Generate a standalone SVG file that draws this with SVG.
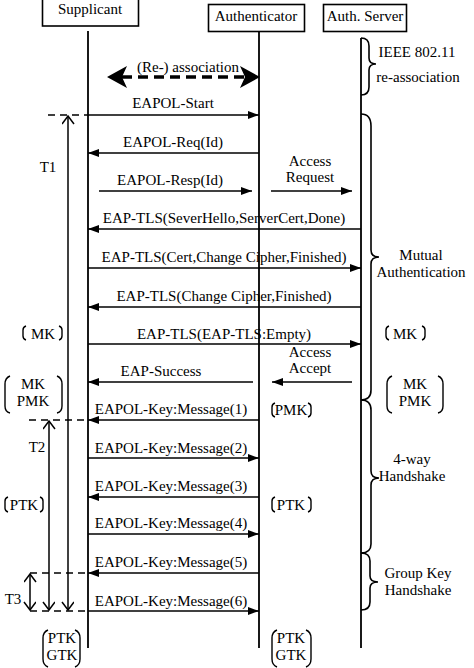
<svg xmlns="http://www.w3.org/2000/svg" width="474" height="668" viewBox="0 0 474 668">
<style>
text{font-family:"Liberation Serif","Times New Roman",serif;font-size:15px;fill:#000;text-anchor:middle}
.box{fill:#fff;stroke:#000;stroke-width:1.6}
.life{stroke:#000;stroke-width:1.8;fill:none}
.msg{stroke:#000;stroke-width:1.5;fill:none;marker-end:url(#ah)}
.dash{stroke:#000;stroke-width:1.5;fill:none;stroke-dasharray:7 5}
.tarr{stroke:#000;stroke-width:1.5;fill:none;marker-start:url(#va);marker-end:url(#va)}
.brace{stroke:#000;stroke-width:1.6;fill:none}
.brk{stroke:#000;stroke-width:1.4;fill:none}
</style>
<defs>
<marker id="ah" markerUnits="userSpaceOnUse" markerWidth="12" markerHeight="10" refX="11" refY="4" orient="auto"><path d="M0,0 L11,4 L0,8 z" fill="#000"/></marker>
<marker id="va" markerUnits="userSpaceOnUse" markerWidth="12" markerHeight="14" refX="9" refY="6" orient="auto-start-reverse"><path d="M1,0 L9,6 L1,12" fill="none" stroke="#000" stroke-width="1.5"/></marker>
</defs>

<g id="supplicant">
<rect class="box" x="42.5" y="-1" width="96" height="27"/>
<text x="90" y="14">Supplicant</text>
</g>
<g id="authenticator">
<rect class="box" x="208.5" y="4.5" width="96" height="27"/>
<text x="256" y="21">Authenticator</text>
</g>
<g id="server">
<rect class="box" x="323.5" y="4.5" width="83" height="27"/>
<text x="365" y="21">Auth. Server</text>
</g>

<g id="lifelines">
<line class="life" x1="88" y1="31" x2="88" y2="648"/>
<line class="life" x1="259" y1="31" x2="259" y2="648"/>
<line class="life" x1="361" y1="38" x2="361" y2="648"/>
</g>

<g id="braces">
<path class="brace" d="M361,38 Q369,38 369,46 L369,58 Q369,64 376,64 Q369,64 369,70 L369,87 Q369,95 361,95"/>
<path class="brace" d="M361,114 Q371,114 371,126 L371,250 Q371,257 379,257 Q371,257 371,264 L371,390 Q371,400 361,400"/>
<path class="brace" d="M361,400 Q371,400 371,410 L371,471 Q371,478 379,478 Q371,478 371,485 L371,544 Q371,553 361,553"/>
<path class="brace" d="M361,553 Q370,553 370,561 L370,576 Q370,582 378,582 Q370,582 370,588 L370,602 Q370,610 361,610"/>
<text x="417" y="57">IEEE 802.11</text>
<text x="418" y="82">re-association</text>
<text x="421" y="260">Mutual</text>
<text x="421" y="277">Authentication</text>
<text x="412" y="464">4-way</text>
<text x="412" y="481">Handshake</text>
<text x="418" y="578">Group Key</text>
<text x="418" y="595">Handshake</text>
</g>

<g id="connectors">
<line x1="122" y1="77" x2="245" y2="77" stroke="#000" stroke-width="3.5" stroke-dasharray="10 6"/>
<path d="M107,77 L127,66 L122,77 L127,88 z" fill="#000"/>
<path d="M260,77 L240,66 L245,77 L240,88 z" fill="#000"/>
<text x="188" y="72">(Re-) association</text>

<line class="dash" x1="48" y1="115" x2="88" y2="115"/>
<line class="msg" x1="88" y1="115" x2="259" y2="115"/>
<text x="173" y="108">EAPOL-Start</text>

<line class="msg" x1="259" y1="153" x2="88" y2="153"/>
<text x="173" y="147">EAPOL-Req(Id)</text>

<line class="msg" x1="99" y1="191" x2="252" y2="191"/>
<text x="170" y="185">EAPOL-Resp(Id)</text>

<line class="msg" x1="271" y1="191" x2="352" y2="191"/>
<text x="310" y="166">Access</text>
<text x="310" y="182">Request</text>

<line class="msg" x1="361" y1="229" x2="88" y2="229"/>
<text x="224" y="223">EAP-TLS(SeverHello,ServerCert,Done)</text>

<line class="msg" x1="88" y1="268" x2="361" y2="268"/>
<text x="224" y="262">EAP-TLS(Cert,Change Cipher,Finished)</text>

<line class="msg" x1="361" y1="307" x2="88" y2="307"/>
<text x="224" y="301">EAP-TLS(Change Cipher,Finished)</text>

<line class="msg" x1="88" y1="344" x2="361" y2="344"/>
<text x="224" y="339">EAP-TLS(EAP-TLS:Empty)</text>

<line class="msg" x1="352" y1="382" x2="272" y2="382"/>
<text x="310" y="357">Access</text>
<text x="310" y="373">Accept</text>

<line class="msg" x1="253" y1="382" x2="88" y2="382"/>
<text x="161" y="376">EAP-Success</text>

<line class="dash" x1="29" y1="420" x2="88" y2="420"/>
<line class="msg" x1="259" y1="420" x2="88" y2="420"/>
<text x="171" y="414">EAPOL-Key:Message(1)</text>

<line class="msg" x1="88" y1="458" x2="259" y2="458"/>
<text x="171" y="453">EAPOL-Key:Message(2)</text>

<line class="msg" x1="259" y1="497" x2="88" y2="497"/>
<text x="171" y="491">EAPOL-Key:Message(3)</text>

<line class="msg" x1="88" y1="534" x2="259" y2="534"/>
<text x="171" y="528">EAPOL-Key:Message(4)</text>

<line class="dash" x1="30" y1="573" x2="88" y2="573"/>
<line class="msg" x1="259" y1="573" x2="88" y2="573"/>
<text x="171" y="567">EAPOL-Key:Message(5)</text>

<line class="dash" x1="30" y1="611" x2="88" y2="611"/>
<line class="msg" x1="88" y1="611" x2="259" y2="611"/>
<text x="171" y="606">EAPOL-Key:Message(6)</text>
</g>

<g id="timers">
<line class="tarr" x1="68" y1="116" x2="68" y2="610"/>
<text x="48" y="172">T1</text>
<line class="tarr" x1="49" y1="421" x2="49" y2="610"/>
<text x="37" y="452">T2</text>
<line class="tarr" x1="30" y1="574" x2="30" y2="610"/>
<text x="13" y="604">T3</text>
</g>

<g id="keys">
<path class="brk" d="M26,326 Q23,327 23,330 L23,336 Q23,339 26,340 M59,326 Q62,327 62,330 L62,336 Q62,339 59,340"/>
<text x="43" y="339">MK</text>
<path class="brk" d="M389,326 Q386,327 386,330 L386,336 Q386,339 389,340 M422,326 Q425,327 425,330 L425,336 Q425,339 422,340"/>
<text x="405" y="339">MK</text>

<path class="brk" d="M10,376 Q5,378 5,384 L5,406 Q5,412 10,413 M57,376 Q62,378 62,384 L62,406 Q62,412 57,413"/>
<text x="33" y="389">MK</text>
<text x="33" y="406">PMK</text>
<path class="brk" d="M392,376 Q387,378 387,384 L387,406 Q387,412 392,413 M438,376 Q443,378 443,384 L443,406 Q443,412 438,413"/>
<text x="415" y="389">MK</text>
<text x="415" y="406">PMK</text>

<path class="brk" d="M275,403 Q272,404 272,407 L272,413 Q272,416 275,417 M308,403 Q311,404 311,407 L311,413 Q311,416 308,417"/>
<text x="291" y="415">PMK</text>

<path class="brk" d="M8,497 Q5,498 5,501 L5,508 Q5,511 8,512 M40,497 Q43,498 43,501 L43,508 Q43,511 40,512"/>
<text x="24" y="510">PTK</text>
<path class="brk" d="M275,497 Q272,498 272,501 L272,508 Q272,511 275,512 M308,497 Q311,498 311,501 L311,508 Q311,511 308,512"/>
<text x="291" y="510">PTK</text>

<path class="brk" d="M48,630 Q43,632 43,638 L43,659 Q43,665 48,667 M75,630 Q80,632 80,638 L80,659 Q80,665 75,667"/>
<text x="62" y="643">PTK</text>
<text x="62" y="660">GTK</text>
<path class="brk" d="M277,630 Q272,632 272,638 L272,659 Q272,665 277,667 M306,630 Q311,632 311,638 L311,659 Q311,665 306,667"/>
<text x="291" y="643">PTK</text>
<text x="291" y="660">GTK</text>
</g>
</svg>
